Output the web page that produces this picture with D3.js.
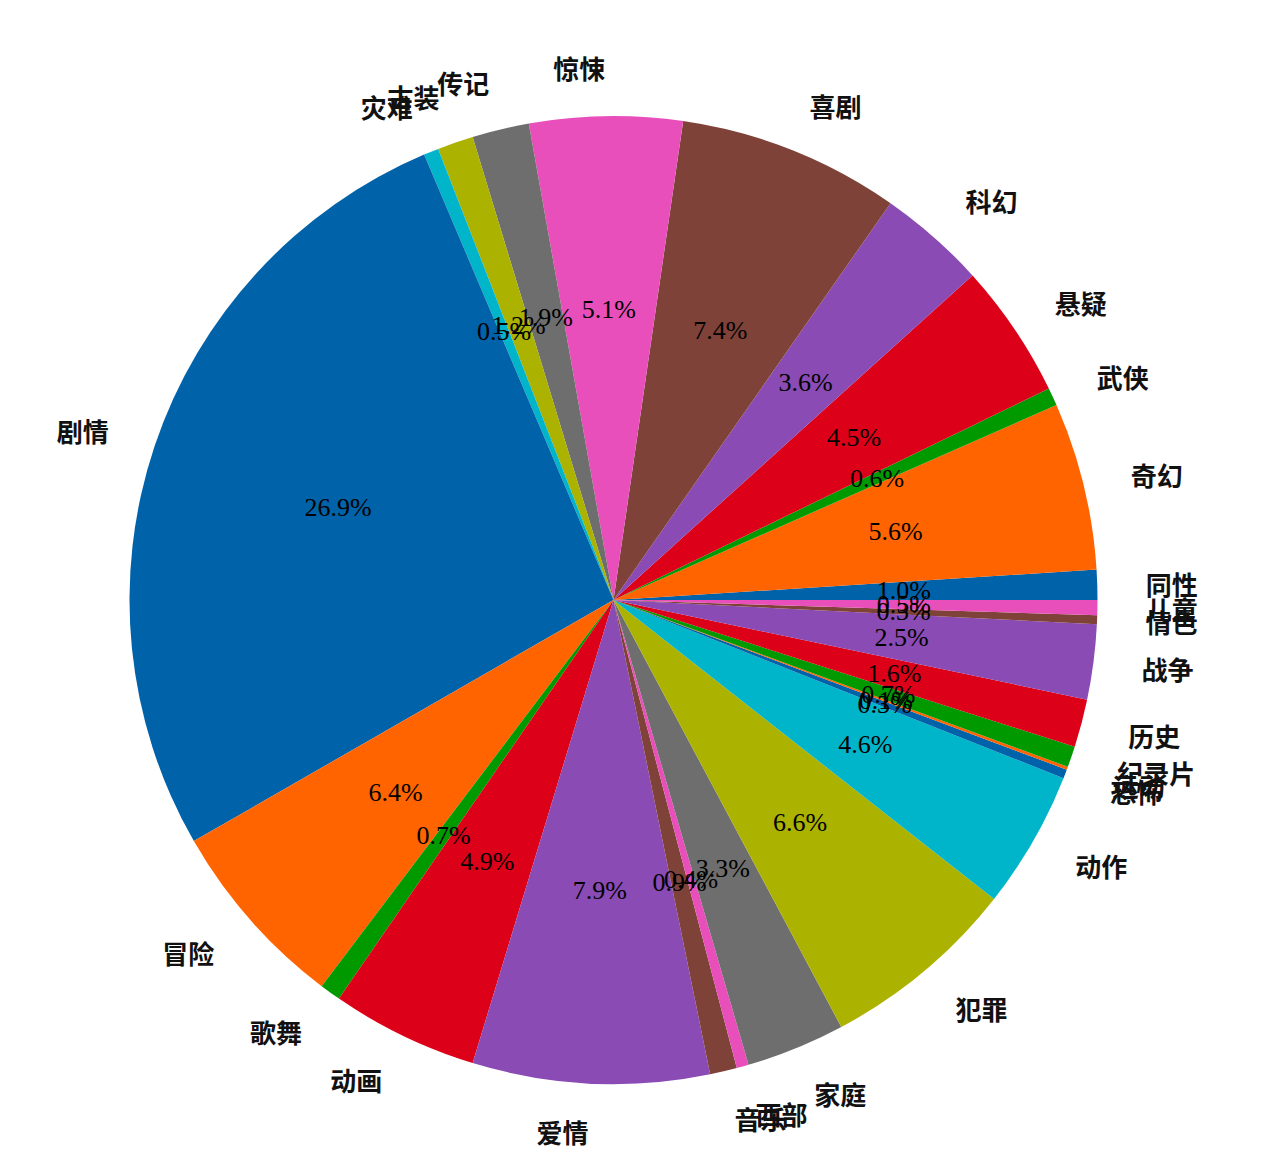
<!DOCTYPE html>
<html>
<head>
<meta charset="utf-8">
<script src="https://cdn.jsdelivr.net/npm/d3@7"></script>
<style>
  html, body { margin: 0; padding: 0; background: #fff; }
  .label { font-family: "Noto Sans CJK SC", sans-serif; font-weight: 700; font-size: 26px; fill: #111; }
  .pct { font-family: "Liberation Serif", "DejaVu Serif", serif; font-size: 26px; fill: #000; }
</style>
</head>
<body>
<svg id="chart"></svg>
<script>
// genres, in the order they were plotted (from 3 o'clock, counter-clockwise)
var genres = ['同性', '奇幻', '武侠', '悬疑', '科幻', '喜剧', '惊悚', '传记', '古装', '灾难',
              '剧情', '冒险', '歌舞', '动画', '爱情', '音乐', '西部', '家庭', '犯罪', '动作',
              '恐怖', '运动', '纪录片', '历史', '战争', '情色', '儿童'];

// share of each genre, percent
var shares = [1.0, 5.6, 0.6, 4.5, 3.6, 7.4, 5.1, 1.9, 1.2, 0.5,
              26.9, 6.4, 0.7, 4.9, 7.9, 0.9, 0.4, 3.3, 6.6, 4.6,
              0.3, 0.1, 0.7, 1.6, 2.5, 0.3, 0.5];

// colour cycle
var palette = ['#0062a9', '#ff6400', '#009a00', '#dc0019', '#8a4bb4',
               '#7f4239', '#e94fbb', '#6e6e6e', '#acb200', '#00b5c9'];

var width = 1284, height = 1164;
var cx = 613.5, cy = 600, radius = 484;

var svg = d3.select('#chart')
  .attr('width', width)
  .attr('height', height);

var g = svg.append('g')
  .attr('transform', 'translate(' + cx + ',' + cy + ')');

var data = genres.map(function(name, i) { return { name: name, value: shares[i] }; });

// start at 3 o'clock and go counter-clockwise
var pie = d3.pie()
  .sort(null)
  .value(function(d) { return d.value; })
  .startAngle(Math.PI / 2)
  .endAngle(Math.PI / 2 - 2 * Math.PI);

var arcs = pie(data);

var arc = d3.arc()
  .innerRadius(0)
  .outerRadius(radius);

var color = d3.scaleOrdinal()
  .domain(d3.range(palette.length))
  .range(palette);

// wedges
g.selectAll('path.wedge')
  .data(arcs)
  .enter()
  .append('path')
  .attr('class', 'wedge')
  .attr('d', arc)
  .attr('fill', function(d, i) { return color(i % palette.length); });

function midAngle(d) { return (d.startAngle + d.endAngle) / 2; }

// percentages at 0.6 r
var pctRadius = radius * 0.6;
var fmt = d3.format('.1f');
g.selectAll('text.pct')
  .data(arcs)
  .enter()
  .append('text')
  .attr('class', 'pct')
  .attr('x', function(d) { return pctRadius * Math.sin(midAngle(d)); })
  .attr('y', function(d) { return -pctRadius * Math.cos(midAngle(d)); })
  .attr('text-anchor', 'middle')
  .attr('dominant-baseline', 'central')
  .text(function(d) { return fmt(d.data.value) + '%'; });

// genre labels at 1.1 r
var labelRadius = radius * 1.1;
g.selectAll('text.label')
  .data(arcs)
  .enter()
  .append('text')
  .attr('class', 'label')
  .attr('x', function(d) { return labelRadius * Math.sin(midAngle(d)); })
  .attr('y', function(d) { return -labelRadius * Math.cos(midAngle(d)); })
  .attr('text-anchor', function(d) { return Math.sin(midAngle(d)) > 0 ? 'start' : 'end'; })
  .attr('dominant-baseline', 'central')
  .text(function(d) { return d.data.name; });
</script>
</body>
</html>
